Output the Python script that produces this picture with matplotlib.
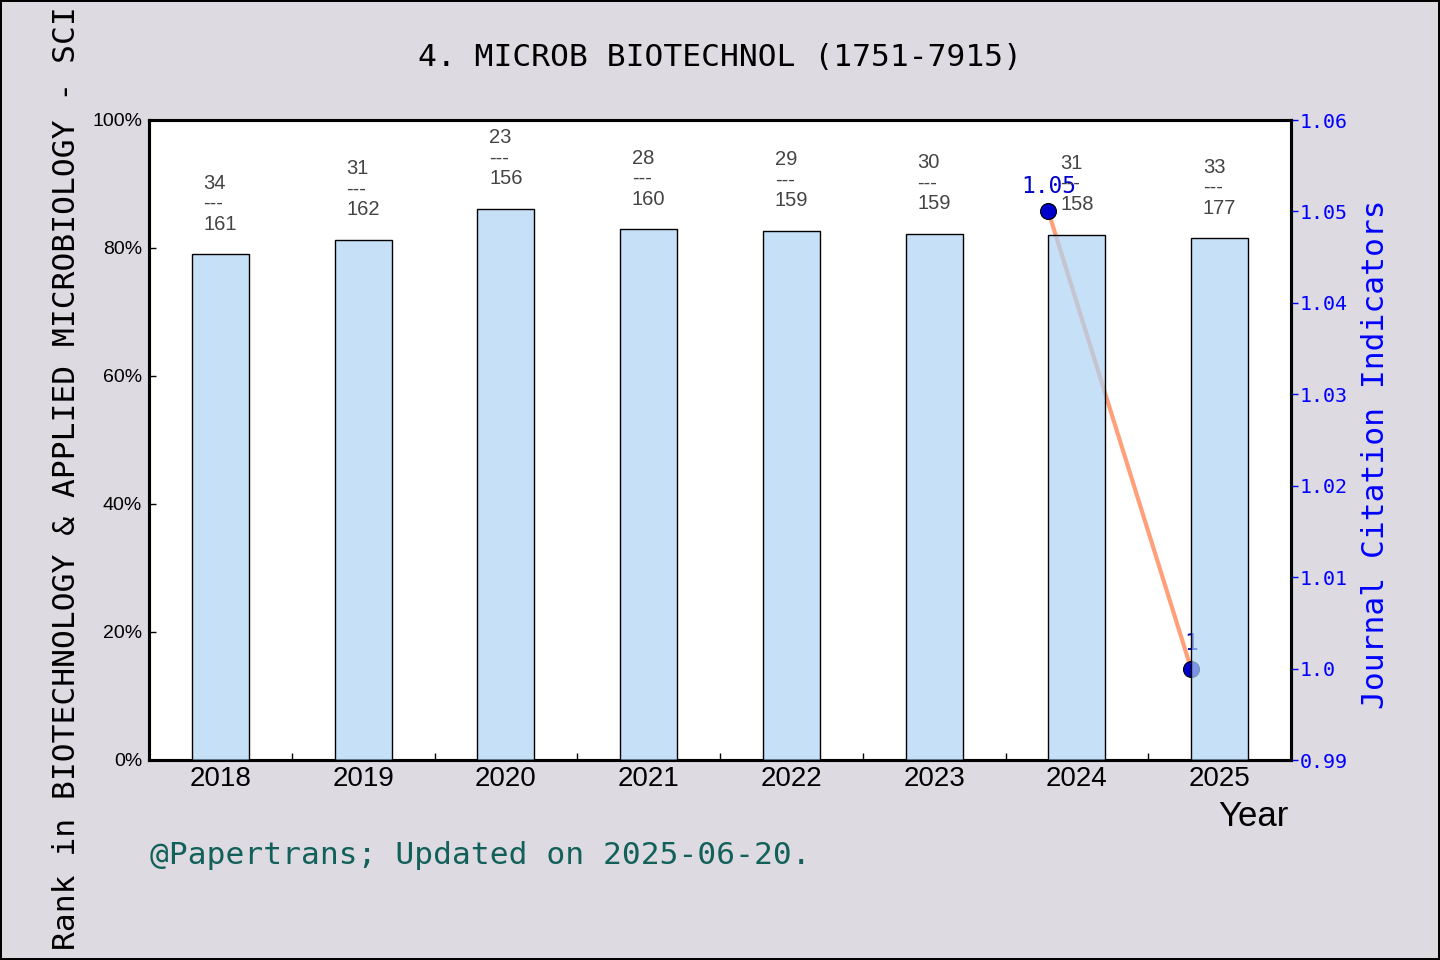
import numpy as np
import matplotlib
matplotlib.use("Agg")
import matplotlib.pyplot as plt
from matplotlib.ticker import FixedLocator, FuncFormatter

# ---- data ----
years = ["2018", "2019", "2020", "2021", "2022", "2023", "2024", "2025"]
rank = [34, 31, 23, 28, 29, 30, 31, 33]
total = [161, 162, 156, 160, 159, 159, 158, 177]
percentile = [79.0, 81.3, 86.1, 82.9, 82.7, 82.2, 82.1, 81.5]
jci_years = ["2024", "2025"]
jci_values = [1.05, 1.0]
left_ticks = [0, 20, 40, 60, 80, 100]
right_ticks = [0.99, 1.00, 1.01, 1.02, 1.03, 1.04, 1.05, 1.06]

title = "4. MICROB BIOTECHNOL (1751-7915)"
ylabel_left = "Rank in BIOTECHNOLOGY & APPLIED MICROBIOLOGY - SCI"
ylabel_right = "Journal Citation Indicators"
footer = "@Papertrans; Updated on 2025-06-20."

# ---- style ----
BG = "#DEDAE1"
MONO = ["DejaVu Sans Mono"]
SANS = ["Liberation Sans", "DejaVu Sans"]
BAR_W = 0.4

fig = plt.figure(figsize=(14.4, 9.6), dpi=100, facecolor=BG,
                 edgecolor="black", linewidth=1.5)
ax = fig.add_axes([149 / 1440, 1 - 760 / 960, (1291 - 149) / 1440, 640 / 960])
ax2 = ax.twinx()
ax.set_zorder(ax2.get_zorder() + 1)
ax.patch.set_visible(False)
ax2.patch.set_visible(True)
ax2.patch.set_facecolor("white")

x = np.arange(len(years))
ax.bar(x, percentile, width=BAR_W, color=(0.68, 0.83, 0.96, 0.7),
       edgecolor="black", linewidth=1.0, zorder=3)
for i in range(len(years)):
    ax.annotate(f"{rank[i]}\n---\n{total[i]}", xy=(x[i], percentile[i]),
                xytext=(0, 15), textcoords="offset points",
                ha="center", va="bottom", multialignment="left",
                fontsize=14.5, color="#444444", family=SANS, linespacing=1.1,
                zorder=4)

ax.set_xlim(-0.5, len(years) - 0.5)
ax.set_ylim(0, 100)
ax.set_xticks(x)
ax.set_xticklabels(years, family=SANS, fontsize=20)
ax.xaxis.set_minor_locator(FixedLocator(x[:-1] + 0.5))
ax.tick_params(axis="x", which="major", length=0, pad=4.5)
ax.tick_params(axis="x", which="minor", direction="in", length=5, width=1)
ax.set_yticks(left_ticks)
ax.set_yticklabels([f"{t}%" for t in left_ticks], family=SANS, fontsize=14)
ax.tick_params(axis="y", direction="in", length=5, width=1, pad=5)
for s in ax.spines.values():
    s.set_linewidth(2.2)
    s.set_color("black")
for s in ax2.spines.values():
    s.set_linewidth(2.2)
    s.set_color("black")

# JCI line (drawn beneath the semi-transparent bars)
xi = np.array([years.index(y) for y in jci_years]) - BAR_W / 2
ax2.plot(xi, jci_values, color="#FFA07A", lw=3, zorder=2)
ax2.plot(xi, jci_values, "o", ms=11.5, mfc="#0000CD", mec="black", mew=0.8,
         zorder=3)
for xv, v in zip(xi, jci_values):
    ax2.annotate(f"{v:g}", xy=(xv, v), xytext=(0, 18), textcoords="offset points",
                 ha="center", va="center", color="#0000CD", fontsize=16.5,
                 family=MONO, zorder=4)
ax2.set_ylim(0.99, 1.06)
ax2.set_yticks(right_ticks)
ax2.yaxis.set_major_formatter(FuncFormatter(lambda v, _: f"{round(v, 2)}"))
ax2.tick_params(axis="y", direction="out", length=5, width=1, colors="blue",
                labelsize=14.4, pad=1)
for lab in ax2.get_yticklabels():
    lab.set_family(MONO)

# texts
fig.text(0.5, 1 - 57 / 960, title, ha="center", va="center",
         family=MONO, fontsize=22.5, color="black")
fig.text(67 / 1440, 1 - 478 / 960, ylabel_left, rotation=90, ha="center",
         va="center", family=MONO, fontsize=22.5, color="black")
fig.text(1375 / 1440, 1 - 454 / 960, ylabel_right, rotation=90, ha="center",
         va="center", family=MONO, fontsize=22.5, color="blue")
fig.text(150 / 1440, 1 - 855 / 960, footer, ha="left", va="center",
         family=MONO, fontsize=22.5, color="#12605A")
fig.text(1289 / 1440, 1 - 817 / 960, "Year", ha="right", va="center",
         family=SANS, fontsize=25, color="black")

fig.savefig("out.png", dpi=100, facecolor=BG, edgecolor="black")
